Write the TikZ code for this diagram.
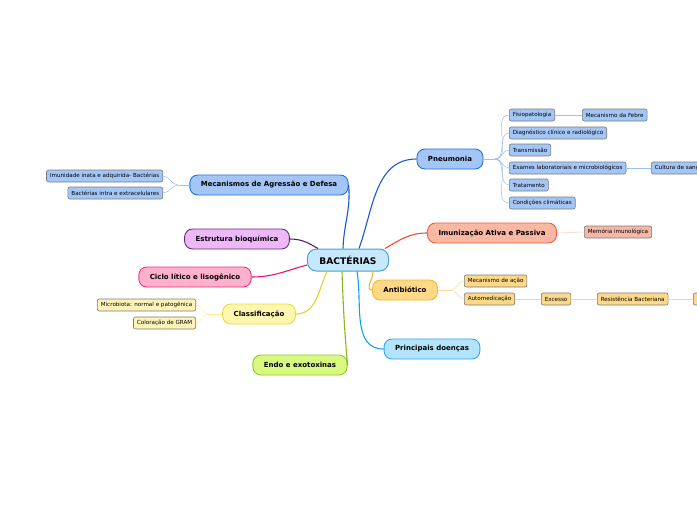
\documentclass[tikz,border=0pt]{standalone}
\usepackage{fontspec}
\setmainfont{DejaVu Sans}
\usepackage{xcolor}
\usetikzlibrary{positioning}

\definecolor{rootfill}{HTML}{C5E8FA}
\definecolor{rootdraw}{HTML}{4A9FD8}
\definecolor{bluefill}{HTML}{A3C6F6}
\definecolor{bluedraw}{HTML}{1F6FE0}
\definecolor{bluelink}{HTML}{1A5AD0}
\definecolor{bluetwig}{HTML}{9CC0F0}
\definecolor{purplefill}{HTML}{ECB8F8}
\definecolor{purpledraw}{HTML}{6A2A80}
\definecolor{purplelink}{HTML}{5A1A6A}
\definecolor{pinkfill}{HTML}{FFB0CC}
\definecolor{pinkdraw}{HTML}{F03080}
\definecolor{pinklink}{HTML}{F0107A}
\definecolor{yellowfill}{HTML}{FFF7B0}
\definecolor{yellowdraw}{HTML}{E8D840}
\definecolor{yellowlink}{HTML}{E8D020}
\definecolor{yellowleaf}{HTML}{FFF4B8}
\definecolor{yellowtwig}{HTML}{FFEE9C}
\definecolor{greenfill}{HTML}{D8F880}
\definecolor{greendraw}{HTML}{90C828}
\definecolor{greenlink}{HTML}{88B818}
\definecolor{salmonfill}{HTML}{F8B8A4}
\definecolor{salmondraw}{HTML}{F06040}
\definecolor{salmonlink}{HTML}{F05028}
\definecolor{salmonleaf}{HTML}{F4B8A8}
\definecolor{salmontwig}{HTML}{F8CCC4}
\definecolor{goldfill}{HTML}{FFD888}
\definecolor{golddraw}{HTML}{F8B828}
\definecolor{goldlink}{HTML}{F8B030}
\definecolor{goldleaf}{HTML}{FDD888}
\definecolor{goldtwig}{HTML}{FCD890}
\definecolor{cyanfill}{HTML}{B4E4FC}
\definecolor{cyandraw}{HTML}{30A8F0}
\definecolor{cyanlink}{HTML}{10A0F0}
\definecolor{leafdraw}{HTML}{7A7A7A}

\begin{document}
\begin{tikzpicture}[x=1pt, y=-1pt,
    root/.style={rectangle, rounded corners=9pt, draw=rootdraw, line width=1pt, fill=rootfill, minimum height=22pt, inner xsep=12pt, font=\fontsize{9.1}{10}\selectfont\bfseries},
    topic/.style={rectangle, rounded corners=8pt, line width=0.9pt, minimum height=20pt, inner xsep=11pt, inner ysep=0pt, font=\fontsize{7}{8}\selectfont\bfseries},
    leaf/.style={rectangle, rounded corners=2pt, draw=leafdraw, line width=0.6pt, minimum height=12pt, inner xsep=3.5pt, inner ysep=0pt, font=\fontsize{5.6}{6}\selectfont},
    bluetopic/.style={topic, fill=bluefill, draw=bluedraw},
    blueleaf/.style={leaf, fill=bluefill},
    link/.style={line width=1.1pt},
    twig/.style={line width=0.5pt}
]
\useasboundingbox (0,0) rectangle (697,520);

% Central node
\node[root] (bact) at (348,260) {BACTÉRIAS};

% Left side topics
\node[bluetopic] (mec) at (269,185) {Mecanismos de Agressão e Defesa};
\node[topic, fill=purplefill, draw=purpledraw] (estr) at (237,239) {Estrutura bioquímica};
\node[topic, fill=pinkfill, draw=pinkdraw] (ciclo) at (195,277) {Ciclo lítico e lisogênico};
\node[topic, fill=yellowfill, draw=yellowdraw] (class) at (259,314) {Classificação};
\node[topic, fill=greenfill, draw=greendraw] (endo) at (300,365) {Endo e exotoxinas};

% Right side topics
\node[bluetopic] (pneu) at (450,159) {Pneumonia};
\node[topic, fill=salmonfill, draw=salmondraw] (imun) at (492,233) {Imunização Ativa e Passiva};
\node[topic, fill=goldfill, draw=golddraw] (antib) at (405,290) {Antibiótico};
\node[topic, fill=cyanfill, draw=cyandraw] (princ) at (432,349) {Principais doenças};

% Mecanismos leaves
\node[blueleaf, anchor=east] (inata) at (163,176) {Imunidade inata e adquirida- Bactérias};
\node[blueleaf, anchor=east] (intra) at (163,193) {Bactérias intra e extracelulares};

% Pneumonia leaves
\node[blueleaf, anchor=west] (fisio) at (509,115) {Fisiopatologia};
\node[blueleaf, anchor=west] (febre) at (582,115) {Mecanismo da Febre};
\node[blueleaf, anchor=west] (diag) at (509,133) {Diagnóstico clínico e radiológico};
\node[blueleaf, anchor=west] (trans) at (509,150) {Transmissão};
\node[blueleaf, anchor=west] (exam) at (509,168) {Exames laboratoriais e microbiológicos};
\node[blueleaf, anchor=west] (cult) at (651,168) {Cultura de sangue};
\node[blueleaf, anchor=west] (trat) at (509,185) {Tratamento};
\node[blueleaf, anchor=west] (clima) at (509,203) {Condições climáticas};

% Imunização leaf
\node[leaf, fill=salmonleaf, anchor=west] (mem) at (584,232) {Memória imunológica};

% Classificação leaves
\node[leaf, fill=yellowleaf, anchor=east] (micro) at (196,305) {Microbiota: normal e patogênica};
\node[leaf, fill=yellowleaf, anchor=east] (gram) at (196,323) {Coloração de GRAM};

% Antibiótico leaves
\node[leaf, fill=goldleaf, anchor=west] (acao) at (464,281) {Mecanismo de ação};
\node[leaf, fill=goldleaf, anchor=west] (auto) at (464,299) {Automedicação};
\node[leaf, fill=goldleaf, anchor=west] (exc) at (541,299) {Excesso};
\node[leaf, fill=goldleaf, anchor=west] (resist) at (597,299) {Resistência Bacteriana};
\node[leaf, fill=goldleaf, anchor=west, minimum width=40pt] (more) at (693,299) {};

% Branches from the centre
\draw[link, bluelink] ([xshift=-5pt]bact.north) to[out=88, in=-85] (mec.east);
\draw[link, bluelink] ([xshift=11pt]bact.north) to[out=70, in=180] (pneu.west);
\draw[link, salmonlink] ([xshift=37pt]bact.north) to[out=30, in=180] (imun.west);
\draw[link, purplelink] ([xshift=-30pt]bact.north) to[out=150, in=0] (estr.east);
\draw[link, pinklink] ([yshift=-5pt]bact.west) to[out=195, in=0] (ciclo.east);
\draw[link, yellowlink] ([xshift=-21pt]bact.south) to[out=-115, in=0] (class.east);
\draw[link, greenlink] ([xshift=-6pt]bact.south) to[out=-88, in=95] (endo.east);
\draw[link, cyanlink] ([xshift=9pt]bact.south) to[out=-80, in=180] (princ.west);
\draw[link, goldlink] ([xshift=25pt]bact.south) to[out=-90, in=180] (antib.west);

% Mecanismos twigs
\coordinate (mecfork) at (178,185);
\draw[twig, bluetwig] (mec.west) -- (mecfork);
\draw[twig, bluetwig] (mecfork) to[out=180, in=0] (inata.east);
\draw[twig, bluetwig] (mecfork) to[out=180, in=0] (intra.east);

% Pneumonia twigs
\coordinate (pneufork) at (495,159);
\draw[twig, bluetwig] (pneu.east) -- (pneufork);
\foreach \leafname in {fisio, diag, trans, exam, trat, clima}
    \draw[twig, bluetwig] (pneufork) to[out=0, in=180] (\leafname.west);
\draw[twig, bluetwig] (fisio.east) -- (febre.west);
\draw[twig, bluetwig] (exam.east) -- (cult.west);

% Imunização twig
\draw[twig, salmontwig] (imun.east) -- (mem.west);

% Classificação twigs
\coordinate (classfork) at (208,314);
\draw[twig, yellowtwig] (class.west) -- (classfork);
\draw[twig, yellowtwig] (classfork) to[out=180, in=0] (micro.east);
\draw[twig, yellowtwig] (classfork) to[out=180, in=0] (gram.east);

% Antibiótico twigs
\coordinate (antibfork) at (451,290);
\draw[twig, goldtwig] (antib.east) -- (antibfork);
\draw[twig, goldtwig] (antibfork) to[out=0, in=180] (acao.west);
\draw[twig, goldtwig] (antibfork) to[out=0, in=180] (auto.west);
\draw[twig, goldtwig] (auto.east) -- (exc.west);
\draw[twig, goldtwig] (exc.east) -- (resist.west);
\draw[twig, goldtwig] (resist.east) -- (more.west);

\end{tikzpicture}
\end{document}
